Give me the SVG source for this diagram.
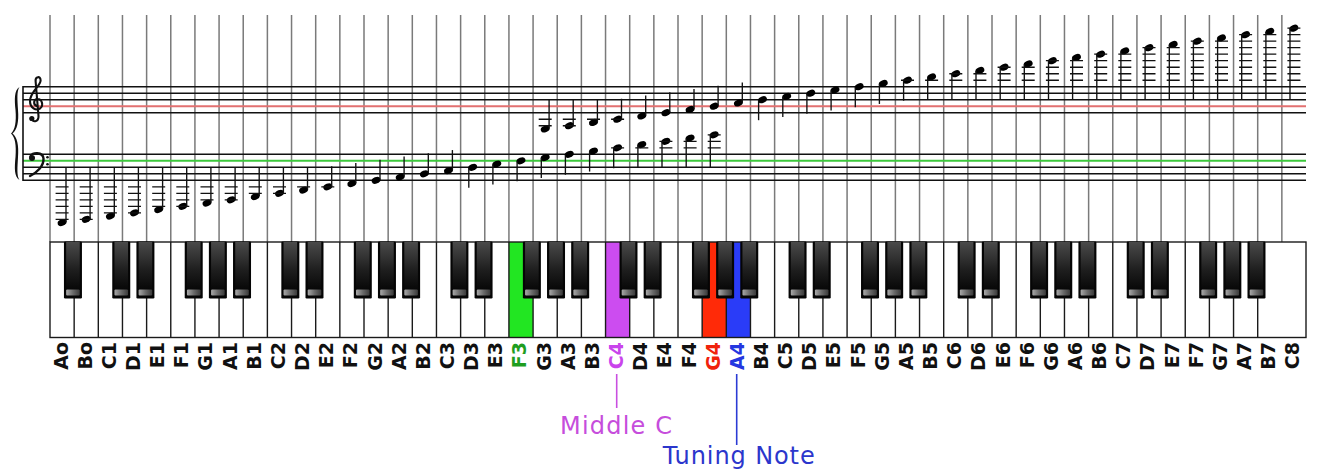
<svg xmlns="http://www.w3.org/2000/svg" xmlns:xlink="http://www.w3.org/1999/xlink" width="1322" height="474" viewBox="0 0 1322 474">
<style>
.vl{stroke:#7a7a7a;stroke-width:1.5;fill:none}
.sf{stroke:#111;stroke-width:1.4;fill:none}
.sl{stroke:#111;stroke-width:1.35;fill:none}
.kd{stroke:#1a1a1a;stroke-width:1.4;fill:none}
.lb{font-family:"DejaVu Sans","Liberation Sans",sans-serif;font-weight:bold;font-size:19px;text-anchor:end;fill:#111}
.ck{font-family:"DejaVu Sans","Liberation Sans",sans-serif;font-size:24px}
</style>
<defs>
<ellipse id="nh" rx="4.6" ry="3.2" transform="rotate(-22)" fill="#000"/>
<linearGradient id="bg" x1="0" y1="0" x2="0" y2="1">
<stop offset="0" stop-color="#4a4a4a"/><stop offset="0.6" stop-color="#1e1e1e"/><stop offset="1" stop-color="#080808"/>
</linearGradient>
<linearGradient id="bv" x1="0" y1="0" x2="1" y2="0">
<stop offset="0" stop-color="#a8a8a8"/><stop offset="0.5" stop-color="#6a6a6a"/><stop offset="1" stop-color="#3a3a3a"/>
</linearGradient>
<g id="bk">
<rect y="241.5" width="18" height="57" rx="1.2" fill="#050505"/>
<rect x="2.2" y="242" width="13.6" height="47" fill="url(#bg)"/>
<rect x="2.2" y="289.5" width="13.6" height="6" rx="1" fill="url(#bv)"/>
</g>
</defs>
<rect width="1322" height="474" fill="#fff"/>

<g id="grid">
<path class="vl" d="M50 15v227m24.154-227v227m24.154-227v227m24.154-227v227m24.154-227v227m24.154-227v227m24.154-227v227m24.154-227v227m24.154-227v227m24.154-227v227m24.154-227v227m24.154-227v227m24.154-227v227m24.154-227v227m24.154-227v227m24.154-227v227m24.154-227v227m24.154-227v227m24.154-227v227m24.154-227v227m24.154-227v227m24.154-227v227m24.154-227v227m24.154-227v227m24.154-227v227m24.154-227v227m24.154-227v227m24.154-227v227m24.154-227v227m24.154-227v227m24.154-227v227m24.154-227v227m24.154-227v227m24.154-227v227m24.154-227v227m24.154-227v227m24.154-227v227m24.154-227v227m24.154-227v227m24.154-227v227m24.154-227v227m24.154-227v227m24.154-227v227m24.154-227v227m24.154-227v227m24.154-227v227m24.154-227v227m24.154-227v227m24.154-227v227m24.154-227v227m24.154-227v227m24.154-227v227"/>
</g>

<g id="staff">
<path class="sf" d="M23 86.7H1306M23 93.2H1306M23 99.7H1306M23 112.7H1306M23 154.3H1306M23 167.3H1306M23 173.8H1306M23 180.3H1306"/>
<path d="M23 106.2H1306" stroke="#e27070" stroke-width="2"/>
<path d="M23 160.8H1306" stroke="#3cc83c" stroke-width="2"/>
<path d="M23 86.1V180.9" stroke="#111" stroke-width="1.6"/>
<path id="brace" fill="#111" d="M19.5 87C14 90 14.5 100 15.5 110C16.5 122 15 130 11 133.5C15 137 16.5 145 15.5 157C14.5 167 14 177 19.5 180C16.5 176 17.5 167 18 157C19 145 17 137 12.5 133.5C17 130 19 122 18 110C17.5 100 16.5 91 19.5 87Z"/>
<g id="treble-clef">
<circle cx="31.8" cy="118.5" r="2.6" fill="#111"/>
<path d="M31.5 118.5C32 122.5 38.8 122.5 38.5 116L35.6 81C35.2 76.5 40.6 75.5 40.6 80.5C40.6 86 30 92 30 101C30 108 36 111 40 108.5C44 105.5 42 99 37.5 99C33.5 99 33 104.5 36.5 106" fill="none" stroke="#111" stroke-width="2.1" stroke-linecap="round"/>
</g>
<g id="bass-clef">
<circle cx="32" cy="158" r="3" fill="#111"/>
<path d="M30.5 156.5C31.5 152 43 151.5 43.5 158.5C44 166 37 172.5 30 176" fill="none" stroke="#111" stroke-width="2.4" stroke-linecap="round"/>
<circle cx="47.5" cy="157.3" r="1.3" fill="#111"/>
<circle cx="47.5" cy="164.2" r="1.3" fill="#111"/>
</g>
</g>

<g id="notes-bass">
<g id="b-A0"><use href="#nh" x="62.1" y="222.55"/><path class="sl" d="M66 222V167.3M55.6 219.3h13m-13-6.5h13m-13-6.5h13m-13-6.5h13m-13-6.5h13m-13-6.5h13"/></g>
<g id="b-B0"><use href="#nh" x="86.2" y="219.3"/><path class="sl" d="M90.1 219V167.3M79.7 219.3h13m-13-6.5h13m-13-6.5h13m-13-6.5h13m-13-6.5h13m-13-6.5h13"/></g>
<g id="b-C1"><use href="#nh" x="110.4" y="216.05"/><path class="sl" d="M114.3 215.5V167.3M103.9 212.8h13m-13-6.5h13m-13-6.5h13m-13-6.5h13m-13-6.5h13"/></g>
<g id="b-D1"><use href="#nh" x="134.5" y="212.8"/><path class="sl" d="M138.4 212.3V167.3M128 212.8h13m-13-6.5h13m-13-6.5h13m-13-6.5h13m-13-6.5h13"/></g>
<g id="b-E1"><use href="#nh" x="158.7" y="209.55"/><path class="sl" d="M162.6 209V167.3M152.2 206.3h13m-13-6.5h13m-13-6.5h13m-13-6.5h13"/></g>
<g id="b-F1"><use href="#nh" x="182.8" y="206.3"/><path class="sl" d="M186.7 205.8V167.3M176.3 206.3h13m-13-6.5h13m-13-6.5h13m-13-6.5h13"/></g>
<g id="b-G1"><use href="#nh" x="207" y="203.05"/><path class="sl" d="M210.9 202.5V167.3M200.5 199.8h13m-13-6.5h13m-13-6.5h13"/></g>
<g id="b-A1"><use href="#nh" x="231.2" y="199.8"/><path class="sl" d="M235.1 199.3V167.3M224.7 199.8h13m-13-6.5h13m-13-6.5h13"/></g>
<g id="b-B1"><use href="#nh" x="255.3" y="196.55"/><path class="sl" d="M259.2 196V167.3M248.8 193.3h13m-13-6.5h13"/></g>
<g id="b-C2"><use href="#nh" x="279.5" y="193.3"/><path class="sl" d="M283.4 192.8V167.3M273 193.3h13m-13-6.5h13"/></g>
<g id="b-D2"><use href="#nh" x="303.6" y="190.05"/><path class="sl" d="M307.5 189.5V167.3M297.1 186.8h13"/></g>
<g id="b-E2"><use href="#nh" x="327.8" y="186.8"/><path class="sl" d="M331.7 186.3V166.3M321.3 186.8h13"/></g>
<g id="b-F2"><use href="#nh" x="351.9" y="183.55"/><path class="sl" d="M355.8 183V163.05"/></g>
<g id="b-G2"><use href="#nh" x="376.1" y="180.3"/><path class="sl" d="M380 179.8V159.8"/></g>
<g id="b-A2"><use href="#nh" x="400.2" y="177.05"/><path class="sl" d="M404.1 176.5V156.55"/></g>
<g id="b-B2"><use href="#nh" x="424.4" y="173.8"/><path class="sl" d="M428.3 173.3V153.3"/></g>
<g id="b-C3"><use href="#nh" x="448.5" y="170.55"/><path class="sl" d="M452.4 170V150.05"/></g>
<g id="b-D3"><use href="#nh" x="472.7" y="167.3"/><path class="sl" d="M468.8 167.8V187.8"/></g>
<g id="b-E3"><use href="#nh" x="496.8" y="164.05"/><path class="sl" d="M492.9 164.5V184.55"/></g>
<g id="b-F3"><use href="#nh" x="521" y="160.8"/><path class="sl" d="M517.1 161.3V181.3"/></g>
<g id="b-G3"><use href="#nh" x="545.2" y="157.55"/><path class="sl" d="M541.3 158V178.05"/></g>
<g id="b-A3"><use href="#nh" x="569.3" y="154.3"/><path class="sl" d="M565.4 154.8V174.8"/></g>
<g id="b-B3"><use href="#nh" x="593.5" y="151.05"/><path class="sl" d="M589.6 151.5V171.55"/></g>
<g id="b-C4"><use href="#nh" x="617.6" y="147.8"/><path class="sl" d="M613.7 148.3V168.3M611.1 147.8h13"/></g>
<g id="b-D4"><use href="#nh" x="641.8" y="144.55"/><path class="sl" d="M637.9 145V167.3M635.3 147.8h13"/></g>
<g id="b-E4"><use href="#nh" x="665.9" y="141.3"/><path class="sl" d="M662 141.8V167.3M659.4 147.8h13m-13-6.5h13"/></g>
<g id="b-F4"><use href="#nh" x="690.1" y="138.05"/><path class="sl" d="M686.2 138.5V167.3M683.6 147.8h13m-13-6.5h13"/></g>
<g id="b-G4"><use href="#nh" x="714.2" y="134.8"/><path class="sl" d="M710.3 135.3V167.3M707.7 147.8h13m-13-6.5h13m-13-6.5h13"/></g>
</g>

<g id="notes-treble">
<g id="t-G3"><use href="#nh" x="545.2" y="128.95"/><path class="sl" d="M549.1 128.5V99.7M538.7 125.7h13m-13-6.5h13"/></g>
<g id="t-A3"><use href="#nh" x="569.3" y="125.7"/><path class="sl" d="M573.2 125.2V99.7M562.8 125.7h13m-13-6.5h13"/></g>
<g id="t-B3"><use href="#nh" x="593.5" y="122.45"/><path class="sl" d="M597.4 122V99.7M587 119.2h13"/></g>
<g id="t-C4"><use href="#nh" x="617.6" y="119.2"/><path class="sl" d="M621.5 118.7V98.7M611.1 119.2h13"/></g>
<g id="t-D4"><use href="#nh" x="641.8" y="115.95"/><path class="sl" d="M645.7 115.5V95.45"/></g>
<g id="t-E4"><use href="#nh" x="665.9" y="112.7"/><path class="sl" d="M669.8 112.2V92.2"/></g>
<g id="t-F4"><use href="#nh" x="690.1" y="109.45"/><path class="sl" d="M694 109V88.95"/></g>
<g id="t-G4"><use href="#nh" x="714.2" y="106.2"/><path class="sl" d="M718.1 105.7V85.7"/></g>
<g id="t-A4"><use href="#nh" x="738.4" y="102.95"/><path class="sl" d="M742.3 102.5V82.45"/></g>
<g id="t-B4"><use href="#nh" x="762.5" y="99.7"/><path class="sl" d="M758.6 100.2V120.2"/></g>
<g id="t-C5"><use href="#nh" x="786.7" y="96.45"/><path class="sl" d="M782.8 97V116.95"/></g>
<g id="t-D5"><use href="#nh" x="810.8" y="93.2"/><path class="sl" d="M806.9 93.7V113.7"/></g>
<g id="t-E5"><use href="#nh" x="835" y="89.95"/><path class="sl" d="M831.1 90.5V110.45"/></g>
<g id="t-F5"><use href="#nh" x="859.2" y="86.7"/><path class="sl" d="M855.3 87.2V107.2"/></g>
<g id="t-G5"><use href="#nh" x="883.3" y="83.45"/><path class="sl" d="M879.4 84V103.95"/></g>
<g id="t-A5"><use href="#nh" x="907.5" y="80.2"/><path class="sl" d="M903.6 80.7V100.7M901 80.2h13"/></g>
<g id="t-B5"><use href="#nh" x="931.6" y="76.95"/><path class="sl" d="M927.7 77.5V99.7M925.1 80.2h13"/></g>
<g id="t-C6"><use href="#nh" x="955.8" y="73.7"/><path class="sl" d="M951.9 74.2V99.7M949.3 80.2h13m-13-6.5h13"/></g>
<g id="t-D6"><use href="#nh" x="979.9" y="70.45"/><path class="sl" d="M976 71V99.7M973.4 80.2h13m-13-6.5h13"/></g>
<g id="t-E6"><use href="#nh" x="1004.1" y="67.2"/><path class="sl" d="M1000.2 67.7V99.7M997.6 80.2h13m-13-6.5h13m-13-6.5h13"/></g>
<g id="t-F6"><use href="#nh" x="1028.2" y="63.95"/><path class="sl" d="M1024.3 64.5V99.7M1021.7 80.2h13m-13-6.5h13m-13-6.5h13"/></g>
<g id="t-G6"><use href="#nh" x="1052.4" y="60.7"/><path class="sl" d="M1048.5 61.2V99.7M1045.9 80.2h13m-13-6.5h13m-13-6.5h13m-13-6.5h13"/></g>
<g id="t-A6"><use href="#nh" x="1076.5" y="57.45"/><path class="sl" d="M1072.6 58V99.7M1070 80.2h13m-13-6.5h13m-13-6.5h13m-13-6.5h13"/></g>
<g id="t-B6"><use href="#nh" x="1100.7" y="54.2"/><path class="sl" d="M1096.8 54.7V99.7M1094.2 80.2h13m-13-6.5h13m-13-6.5h13m-13-6.5h13m-13-6.5h13"/></g>
<g id="t-C7"><use href="#nh" x="1124.8" y="50.95"/><path class="sl" d="M1120.9 51.5V99.7M1118.3 80.2h13m-13-6.5h13m-13-6.5h13m-13-6.5h13m-13-6.5h13"/></g>
<g id="t-D7"><use href="#nh" x="1149" y="47.7"/><path class="sl" d="M1145.1 48.2V99.7M1142.5 80.2h13m-13-6.5h13m-13-6.5h13m-13-6.5h13m-13-6.5h13m-13-6.5h13"/></g>
<g id="t-E7"><use href="#nh" x="1173.2" y="44.45"/><path class="sl" d="M1169.3 45V99.7M1166.7 80.2h13m-13-6.5h13m-13-6.5h13m-13-6.5h13m-13-6.5h13m-13-6.5h13"/></g>
<g id="t-F7"><use href="#nh" x="1197.3" y="41.2"/><path class="sl" d="M1193.4 41.7V99.7M1190.8 80.2h13m-13-6.5h13m-13-6.5h13m-13-6.5h13m-13-6.5h13m-13-6.5h13m-13-6.5h13"/></g>
<g id="t-G7"><use href="#nh" x="1221.5" y="37.95"/><path class="sl" d="M1217.6 38.5V99.7M1215 80.2h13m-13-6.5h13m-13-6.5h13m-13-6.5h13m-13-6.5h13m-13-6.5h13m-13-6.5h13"/></g>
<g id="t-A7"><use href="#nh" x="1245.6" y="34.7"/><path class="sl" d="M1241.7 35.2V99.7M1239.1 80.2h13m-13-6.5h13m-13-6.5h13m-13-6.5h13m-13-6.5h13m-13-6.5h13m-13-6.5h13m-13-6.5h13"/></g>
<g id="t-B7"><use href="#nh" x="1269.8" y="31.45"/><path class="sl" d="M1265.9 32V99.7M1263.3 80.2h13m-13-6.5h13m-13-6.5h13m-13-6.5h13m-13-6.5h13m-13-6.5h13m-13-6.5h13m-13-6.5h13"/></g>
<g id="t-C8"><use href="#nh" x="1293.9" y="28.2"/><path class="sl" d="M1290 28.7V99.7M1287.4 80.2h13m-13-6.5h13m-13-6.5h13m-13-6.5h13m-13-6.5h13m-13-6.5h13m-13-6.5h13m-13-6.5h13m-13-6.5h13"/></g>
</g>

<g id="keyboard">
<rect x="50" y="242" width="1256" height="95.5" fill="#fff"/>
<rect id="key-F3" x="508.92" y="242" width="24.15" height="95.5" fill="#22e622"/>
<rect id="key-C4" x="605.54" y="242" width="24.15" height="95.5" fill="#cc4cf0"/>
<rect id="key-G4" x="702.15" y="242" width="24.15" height="95.5" fill="#ff2a08"/>
<rect id="key-A4" x="726.31" y="242" width="24.15" height="95.5" fill="#2a3cf8"/>
<path class="kd" d="M74.154 242v95.5m24.154-95.5v95.5m24.154-95.5v95.5m24.154-95.5v95.5m24.154-95.5v95.5m24.154-95.5v95.5m24.154-95.5v95.5m24.154-95.5v95.5m24.154-95.5v95.5m24.154-95.5v95.5m24.154-95.5v95.5m24.154-95.5v95.5m24.154-95.5v95.5m24.154-95.5v95.5m24.154-95.5v95.5m24.154-95.5v95.5m24.154-95.5v95.5m24.154-95.5v95.5m24.154-95.5v95.5m24.154-95.5v95.5m24.154-95.5v95.5m24.154-95.5v95.5m24.154-95.5v95.5m24.154-95.5v95.5m24.154-95.5v95.5m24.154-95.5v95.5m24.154-95.5v95.5m24.154-95.5v95.5m24.154-95.5v95.5m24.154-95.5v95.5m24.154-95.5v95.5m24.154-95.5v95.5m24.154-95.5v95.5m24.154-95.5v95.5m24.154-95.5v95.5m24.154-95.5v95.5m24.154-95.5v95.5m24.154-95.5v95.5m24.154-95.5v95.5m24.154-95.5v95.5m24.154-95.5v95.5m24.154-95.5v95.5m24.154-95.5v95.5m24.154-95.5v95.5m24.154-95.5v95.5m24.154-95.5v95.5m24.154-95.5v95.5m24.154-95.5v95.5m24.154-95.5v95.5m24.154-95.5v95.5"/>
<rect class="kd" x="50" y="242" width="1256" height="95.5"/>
<g id="black-keys">
<use href="#bk" x="63.95"/><use href="#bk" x="112.26"/><use href="#bk" x="136.42"/><use href="#bk" x="184.72"/><use href="#bk" x="208.88"/><use href="#bk" x="233.03"/>
<use href="#bk" x="281.34"/><use href="#bk" x="305.49"/><use href="#bk" x="353.8"/><use href="#bk" x="377.95"/><use href="#bk" x="402.11"/>
<use href="#bk" x="450.42"/><use href="#bk" x="474.57"/><use href="#bk" x="522.88"/><use href="#bk" x="547.03"/><use href="#bk" x="571.18"/>
<use href="#bk" x="619.49"/><use href="#bk" x="643.65"/><use href="#bk" x="691.95"/><use href="#bk" x="716.11"/><use href="#bk" x="740.26"/>
<use href="#bk" x="788.57"/><use href="#bk" x="812.72"/><use href="#bk" x="861.03"/><use href="#bk" x="885.18"/><use href="#bk" x="909.34"/>
<use href="#bk" x="957.65"/><use href="#bk" x="981.8"/><use href="#bk" x="1030.11"/><use href="#bk" x="1054.26"/><use href="#bk" x="1078.42"/>
<use href="#bk" x="1126.72"/><use href="#bk" x="1150.88"/><use href="#bk" x="1199.18"/><use href="#bk" x="1223.34"/><use href="#bk" x="1247.49"/>
</g>
</g>

<g id="labels">
<text class="lb" transform="translate(60.6 342) rotate(-90)" y="6.9">Ao</text>
<text class="lb" transform="translate(84.7 342) rotate(-90)" y="6.9">Bo</text>
<text class="lb" transform="translate(108.9 342) rotate(-90)" y="6.9">C1</text>
<text class="lb" transform="translate(133 342) rotate(-90)" y="6.9">D1</text>
<text class="lb" transform="translate(157.2 342) rotate(-90)" y="6.9">E1</text>
<text class="lb" transform="translate(181.3 342) rotate(-90)" y="6.9">F1</text>
<text class="lb" transform="translate(205.5 342) rotate(-90)" y="6.9">G1</text>
<text class="lb" transform="translate(229.7 342) rotate(-90)" y="6.9">A1</text>
<text class="lb" transform="translate(253.8 342) rotate(-90)" y="6.9">B1</text>
<text class="lb" transform="translate(278 342) rotate(-90)" y="6.9">C2</text>
<text class="lb" transform="translate(302.1 342) rotate(-90)" y="6.9">D2</text>
<text class="lb" transform="translate(326.3 342) rotate(-90)" y="6.9">E2</text>
<text class="lb" transform="translate(350.4 342) rotate(-90)" y="6.9">F2</text>
<text class="lb" transform="translate(374.6 342) rotate(-90)" y="6.9">G2</text>
<text class="lb" transform="translate(398.7 342) rotate(-90)" y="6.9">A2</text>
<text class="lb" transform="translate(422.9 342) rotate(-90)" y="6.9">B2</text>
<text class="lb" transform="translate(447 342) rotate(-90)" y="6.9">C3</text>
<text class="lb" transform="translate(471.2 342) rotate(-90)" y="6.9">D3</text>
<text class="lb" transform="translate(495.3 342) rotate(-90)" y="6.9">E3</text>
<text class="lb" transform="translate(519.5 342) rotate(-90)" y="6.9" style="fill:#1f9e1f">F3</text>
<text class="lb" transform="translate(543.7 342) rotate(-90)" y="6.9">G3</text>
<text class="lb" transform="translate(567.8 342) rotate(-90)" y="6.9">A3</text>
<text class="lb" transform="translate(592 342) rotate(-90)" y="6.9">B3</text>
<text class="lb" transform="translate(616.1 342) rotate(-90)" y="6.9" style="fill:#c944ec">C4</text>
<text class="lb" transform="translate(640.3 342) rotate(-90)" y="6.9">D4</text>
<text class="lb" transform="translate(664.4 342) rotate(-90)" y="6.9">E4</text>
<text class="lb" transform="translate(688.6 342) rotate(-90)" y="6.9">F4</text>
<text class="lb" transform="translate(712.7 342) rotate(-90)" y="6.9" style="fill:#f0220c">G4</text>
<text class="lb" transform="translate(736.9 342) rotate(-90)" y="6.9" style="fill:#2436e0">A4</text>
<text class="lb" transform="translate(761 342) rotate(-90)" y="6.9">B4</text>
<text class="lb" transform="translate(785.2 342) rotate(-90)" y="6.9">C5</text>
<text class="lb" transform="translate(809.3 342) rotate(-90)" y="6.9">D5</text>
<text class="lb" transform="translate(833.5 342) rotate(-90)" y="6.9">E5</text>
<text class="lb" transform="translate(857.7 342) rotate(-90)" y="6.9">F5</text>
<text class="lb" transform="translate(881.8 342) rotate(-90)" y="6.9">G5</text>
<text class="lb" transform="translate(906 342) rotate(-90)" y="6.9">A5</text>
<text class="lb" transform="translate(930.1 342) rotate(-90)" y="6.9">B5</text>
<text class="lb" transform="translate(954.3 342) rotate(-90)" y="6.9">C6</text>
<text class="lb" transform="translate(978.4 342) rotate(-90)" y="6.9">D6</text>
<text class="lb" transform="translate(1002.6 342) rotate(-90)" y="6.9">E6</text>
<text class="lb" transform="translate(1026.7 342) rotate(-90)" y="6.9">F6</text>
<text class="lb" transform="translate(1050.9 342) rotate(-90)" y="6.9">G6</text>
<text class="lb" transform="translate(1075 342) rotate(-90)" y="6.9">A6</text>
<text class="lb" transform="translate(1099.2 342) rotate(-90)" y="6.9">B6</text>
<text class="lb" transform="translate(1123.3 342) rotate(-90)" y="6.9">C7</text>
<text class="lb" transform="translate(1147.5 342) rotate(-90)" y="6.9">D7</text>
<text class="lb" transform="translate(1171.7 342) rotate(-90)" y="6.9">E7</text>
<text class="lb" transform="translate(1195.8 342) rotate(-90)" y="6.9">F7</text>
<text class="lb" transform="translate(1220 342) rotate(-90)" y="6.9">G7</text>
<text class="lb" transform="translate(1244.1 342) rotate(-90)" y="6.9">A7</text>
<text class="lb" transform="translate(1268.3 342) rotate(-90)" y="6.9">B7</text>
<text class="lb" transform="translate(1292.4 342) rotate(-90)" y="6.9">C8</text>
</g>

<g id="connectors">
<line x1="616.7" y1="374" x2="616.7" y2="408" stroke="#c94fe0" stroke-width="1.6"/>
<line x1="736.7" y1="374" x2="736.7" y2="445" stroke="#2b3bd4" stroke-width="1.6"/>
</g>
<g id="callout-middle-c"><text class="ck" x="560" y="434" fill="#c64ddc" letter-spacing="1.2">Middle C</text></g>
<g id="callout-tuning-note"><text class="ck" x="662.7" y="464" fill="#2b36cc" letter-spacing="0.9">Tuning Note</text></g>
</svg>
